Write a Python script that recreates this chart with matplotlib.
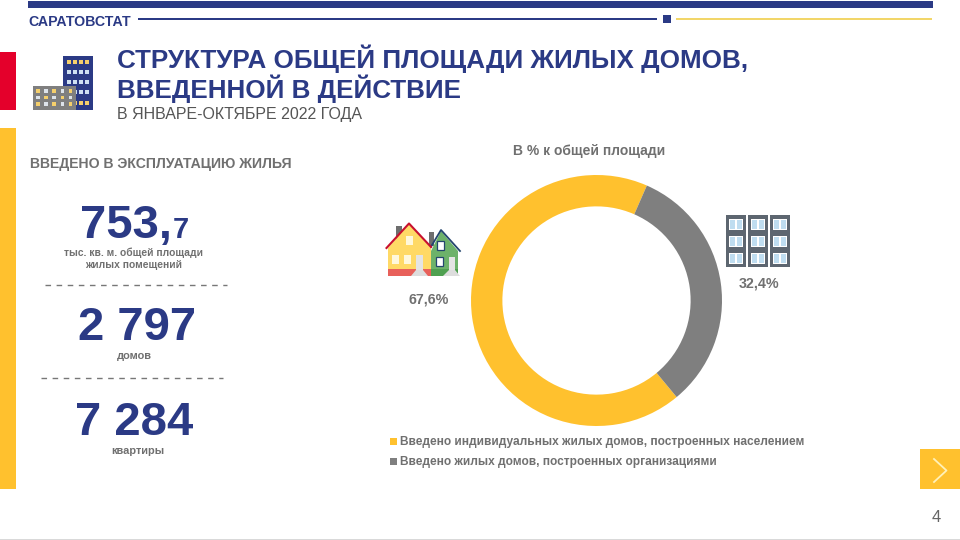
import matplotlib
matplotlib.use("Agg")
import matplotlib.pyplot as plt
from matplotlib.patches import Rectangle as R, Polygon as P

plt.rcParams['font.family'] = ['Liberation Sans', 'DejaVu Sans']

shares = [67.6, 32.4]
share_labels = ['67,6%', '32,4%']
legend_labels = ['Введено индивидуальных жилых домов, построенных населением',
                 'Введено жилых домов, построенных организациями']
stats = ['2 797', '7 284']
stat_units = ['домов', 'квартиры']

NAVY = '#2B3A85'; YEL = '#FFC12E'; GREY = '#7F7F7F'; TXT = '#707070'; RED = '#E4002B'

fig = plt.figure(figsize=(9.6, 5.4), dpi=100, facecolor='white')
ax = fig.add_axes([0, 0, 1, 1])
ax.set_xlim(0, 960); ax.set_ylim(540, 0); ax.axis('off')

def rect(x, y, w, h, c, z=2):
    ax.add_patch(R((x, y), w, h, fc=c, ec='none', zorder=z))
def poly(pts, c, z=2, ec='none', lw=0):
    ax.add_patch(P(pts, closed=True, fc=c, ec=ec, lw=lw, zorder=z))

# header
rect(28, 1, 905, 7, NAVY)
ax.text(28.5, 21.5, 'САРАТОВСТАТ', fontsize=10.2, fontweight='bold', color=NAVY, va='center')
rect(138, 17.5, 519, 2, NAVY)
rect(663, 15, 8, 8, NAVY)
rect(676, 17.5, 256, 2.2, '#F2D669')
# side bars
rect(0, 52, 16, 58, RED)
rect(0, 128, 16, 361, YEL)

# building icon
rect(63, 56, 30, 54, NAVY)
for j, yy in enumerate([59.5, 69.5, 79.5, 90, 100.5]):
    for i in range(4):
        c = '#F5CF6B' if j in (0, 4) else '#CFE0F2'
        rect(66.5 + i * 6.2, yy, 4.2, 4.2, c, 3)
rect(33, 86, 43, 24, '#7F7F7F', 4)
for j, yy in enumerate([89, 95.5, 102]):
    for i in range(5):
        c = '#F5CF6B' if (i + j) % 2 == 0 else '#DDE3EA'
        rect(36 + i * 8.2, yy, 3.6, 3.8, c, 5)

# title
ax.text(117, 58.5, 'СТРУКТУРА ОБЩЕЙ ПЛОЩАДИ ЖИЛЫХ ДОМОВ,', fontsize=18.7, fontweight='bold', color=NAVY, va='center')
ax.text(117, 89, 'ВВЕДЕННОЙ В ДЕЙСТВИЕ', fontsize=18.7, fontweight='bold', color=NAVY, va='center')
ax.text(117, 114.5, 'В ЯНВАРЕ-ОКТЯБРЕ 2022 ГОДА', fontsize=11.5, color='#555555', va='center')

# left column
ax.text(30, 164, 'ВВЕДЕНО В ЭКСПЛУАТАЦИЮ ЖИЛЬЯ', fontsize=10.1, fontweight='bold', color=TXT, va='center')
ax.text(80, 238, '753,', fontsize=34, fontweight='bold', color=NAVY, va='baseline', ha='left')
ax.text(173, 238, '7', fontsize=21, fontweight='bold', color=NAVY, va='baseline', ha='left')
ax.text(134, 252.5, 'тыс. кв. м. общей площади', fontsize=7.4, fontweight='bold', color=TXT, va='center', ha='center')
ax.text(134, 264.5, 'жилых помещений', fontsize=7.4, fontweight='bold', color=TXT, va='center', ha='center')
ax.plot([45, 227], [284.5, 284.5], color='#777777', lw=1, dashes=(4, 4))
ax.text(137, 340, stats[0], fontsize=34, fontweight='bold', color=NAVY, va='baseline', ha='center')
ax.text(134, 356, stat_units[0], fontsize=7.9, fontweight='bold', color=TXT, va='center', ha='center')
ax.plot([41, 223], [378, 378], color='#777777', lw=1, dashes=(4, 4))
ax.text(134, 435, stats[1], fontsize=34, fontweight='bold', color=NAVY, va='baseline', ha='center')
ax.text(138, 451, stat_units[1], fontsize=7.9, fontweight='bold', color=TXT, va='center', ha='center')

# chart title / labels
ax.text(589, 151.5, 'В % к общей площади', fontsize=10, fontweight='bold', color=TXT, va='center', ha='center')
ax.text(429, 299.5, share_labels[0], fontsize=10.3, fontweight='bold', color=TXT, va='center', ha='center')
ax.text(759, 283.5, share_labels[1], fontsize=10.3, fontweight='bold', color=TXT, va='center', ha='center')

# donut
cx, cy, r = 596.5, 300.5, 125.5
pie_ax = fig.add_axes([(cx - r) / 960, 1 - (cy + r) / 540, 2 * r / 960, 2 * r / 540])
pie_ax.pie(shares, colors=[YEL, GREY], startangle=-50.3, counterclock=False, radius=1.0,
           wedgeprops=dict(width=0.25))
pie_ax.set_xlim(-1, 1); pie_ax.set_ylim(-1, 1)

# legend
rect(390, 438, 7, 7, YEL)
ax.text(400, 442.5, legend_labels[0], fontsize=8.6, fontweight='bold', color=TXT, va='center')
rect(390, 458, 7, 7, GREY)
ax.text(400, 462.5, legend_labels[1], fontsize=8.6, fontweight='bold', color=TXT, va='center')

# houses icon
rect(396, 226, 6, 15, '#6E6E6E')
rect(429, 232, 5, 14, '#6E6E6E')
poly([(431, 251), (441, 231), (458, 251), (458, 276), (431, 276)], '#6DB26A', 2)
rect(431, 269, 27, 7, '#4FA050', 3)
ax.plot([429, 441, 460], [250, 230, 251], color='#24466E', lw=1.3, zorder=3)
for (x, y) in [(437, 241), (436, 257)]:
    ax.add_patch(R((x, y), 7, 8.5, fc='white', ec='#24466E', lw=0.9, zorder=3))
rect(449, 257, 6, 13, '#E4E4E4', 3)
poly([(388, 248), (409, 224), (431, 248), (431, 276), (388, 276)], '#FFD966', 4)
rect(388, 268.5, 43, 7.5, '#E8605A', 5)
ax.plot([386.5, 409, 431], [248, 223.5, 247], color='#C8102E', lw=1.5, zorder=6)
for (x, y) in [(406, 236), (392, 255), (404, 255)]:
    rect(x, y, 7, 9, '#FFF8DC', 5)
rect(416, 255, 7, 15, '#E4E4E4', 5)
poly([(411, 276), (416, 270), (423, 270), (428, 276)], '#DDDDDD', 6)
poly([(443, 276), (449, 270), (455, 270), (460, 276)], '#DDDDDD', 6)

# flats icon
for i in range(3):
    x0 = 726 + i * 22
    rect(x0, 215, 20, 52, '#5D6670', 2)
    for j in range(3):
        y0 = 219 + j * 17
        rect(x0 + 3, y0, 14, 11, 'white', 3)
        rect(x0 + 4, y0 + 1, 5.3, 9, '#BFDDF0', 4)
        rect(x0 + 10.7, y0 + 1, 5.3, 9, '#BFDDF0', 4)

# nav
rect(920, 449, 40, 40, YEL)
ax.plot([934, 946.5, 934], [459, 470.5, 482], color='#FFF1B8', lw=1.3, zorder=3)
ax.text(936, 517, '4', fontsize=12, color='#666666', va='center', ha='center')
# frame lines
rect(0, 538.8, 960, 1.2, '#D9D9D9')

fig.savefig('out.png', dpi=100)
